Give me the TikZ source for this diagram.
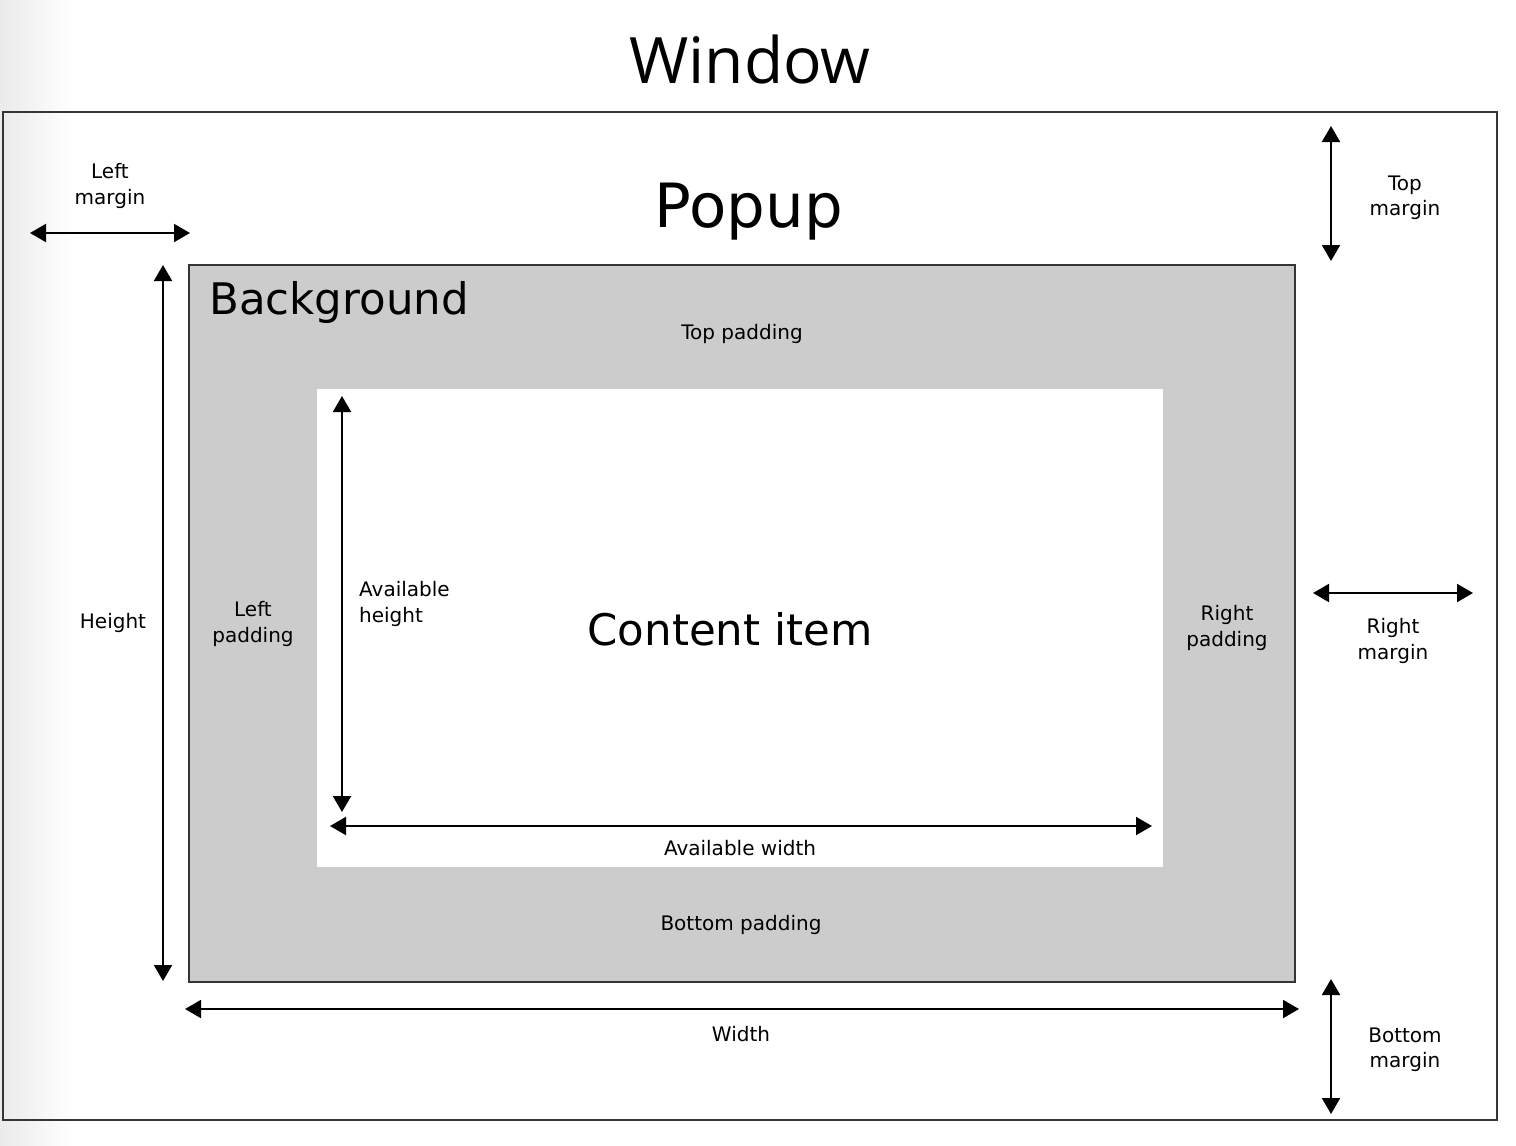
\documentclass[tikz,border=0pt]{standalone}
\usepackage{fontspec}
\setmainfont{DejaVu Sans}
\newfontfamily\titlefont{Open Sans}
\usetikzlibrary{arrows.meta, positioning}
\definecolor{panelgray}{HTML}{CCCCCC}
\definecolor{framegray}{HTML}{353535}

\tikzset{
  dimarrow/.style={{Triangle[length=16pt,width=18pt]}-{Triangle[length=16pt,width=18pt]}, line width=2pt, black},
  smalllabel/.style={font=\fontsize{20}{25.5}\selectfont, align=center, inner sep=0pt},
  biglabel/.style={font=\fontsize{43.5}{50}\selectfont, inner sep=0pt, anchor=base},
}

\begin{document}
\begin{tikzpicture}[x=1pt, y=-1pt, line join=miter]
	\useasboundingbox (0,0) rectangle (1516,1146);
	% faint shadow along the left edge
	\shade[left color=black!8, right color=white] (0,0) rectangle (72,1146);

	% window, background and content boxes
	\coordinate (win-nw) at (3,112);
	\coordinate (win-se) at (1497,1120);
	\coordinate (bg-nw) at (189,265);
	\coordinate (bg-se) at (1295,982);
	\coordinate (ct-nw) at (317,389);
	\coordinate (ct-se) at (1163,867);
	\draw[line width=2.5pt, framegray] (win-nw) rectangle (win-se);
	\filldraw[fill=panelgray, draw=framegray, line width=2.5pt] (bg-nw) rectangle (bg-se);
	\fill[white] (ct-nw) rectangle (ct-se);

	% titles
	\node[font=\titlefont\fontsize{64}{70}\selectfont, inner sep=0pt, anchor=base] (window) at (750,83) {Window};
	\node[font=\fontsize{61}{66}\selectfont, inner sep=0pt, anchor=base] (popup) at (749,227) {Popup};
	\node[biglabel, anchor=base west] (background) at (209,314) {Background};
	\node[biglabel] (content) at (730,645) {Content item};

	% arrow end points
	\coordinate (lm-a) at (30,233);   \coordinate (lm-b) at (190,233);
	\coordinate (h-a) at (163,265);   \coordinate (h-b) at (163,981);
	\coordinate (tm-a) at (1331,126); \coordinate (tm-b) at (1331,261);
	\coordinate (rm-a) at (1313,593); \coordinate (rm-b) at (1473,593);
	\coordinate (bm-a) at (1331,979); \coordinate (bm-b) at (1331,1114);
	\coordinate (w-a) at (185,1009);  \coordinate (w-b) at (1299,1009);
	\coordinate (ah-a) at (342,396);  \coordinate (ah-b) at (342,812);
	\coordinate (aw-a) at (330,826);  \coordinate (aw-b) at (1152,826);

	\draw[dimarrow] (lm-a) -- (lm-b);
	\draw[dimarrow] (h-a) -- (h-b);
	\draw[dimarrow] (tm-a) -- (tm-b);
	\draw[dimarrow] (rm-a) -- (rm-b);
	\draw[dimarrow] (bm-a) -- (bm-b);
	\draw[dimarrow] (w-a) -- (w-b);
	\draw[dimarrow] (ah-a) -- (ah-b);
	\draw[dimarrow] (aw-a) -- (aw-b);

	% labels
	\node[smalllabel] (leftmargin) at (110,186) {Left\\margin};
	\node[smalllabel] (topmargin) at (1405,198) {Top\\margin};
	\node[smalllabel] (rightmargin) at (1393,641) {Right\\margin};
	\node[smalllabel] (bottommargin) at (1405,1050) {Bottom\\margin};
	\node[smalllabel] (leftpadding) at (253,624) {Left\\padding};
	\node[smalllabel] (rightpadding) at (1227,628) {Right\\padding};
	\node[smalllabel, align=left, anchor=west] (availheight) at (359,604) {Available\\height};
	\node[smalllabel, anchor=base] (height) at (113,628) {Height};
	\node[smalllabel, anchor=base] (toppadding) at (742,339) {Top padding};
	\node[smalllabel, anchor=base] (bottompadding) at (741,930) {Bottom padding};
	\node[smalllabel, anchor=base] (availwidth) at (740,855) {Available width};
	\node[smalllabel, anchor=base] (width) at (741,1041) {Width};
\end{tikzpicture}
\end{document}
